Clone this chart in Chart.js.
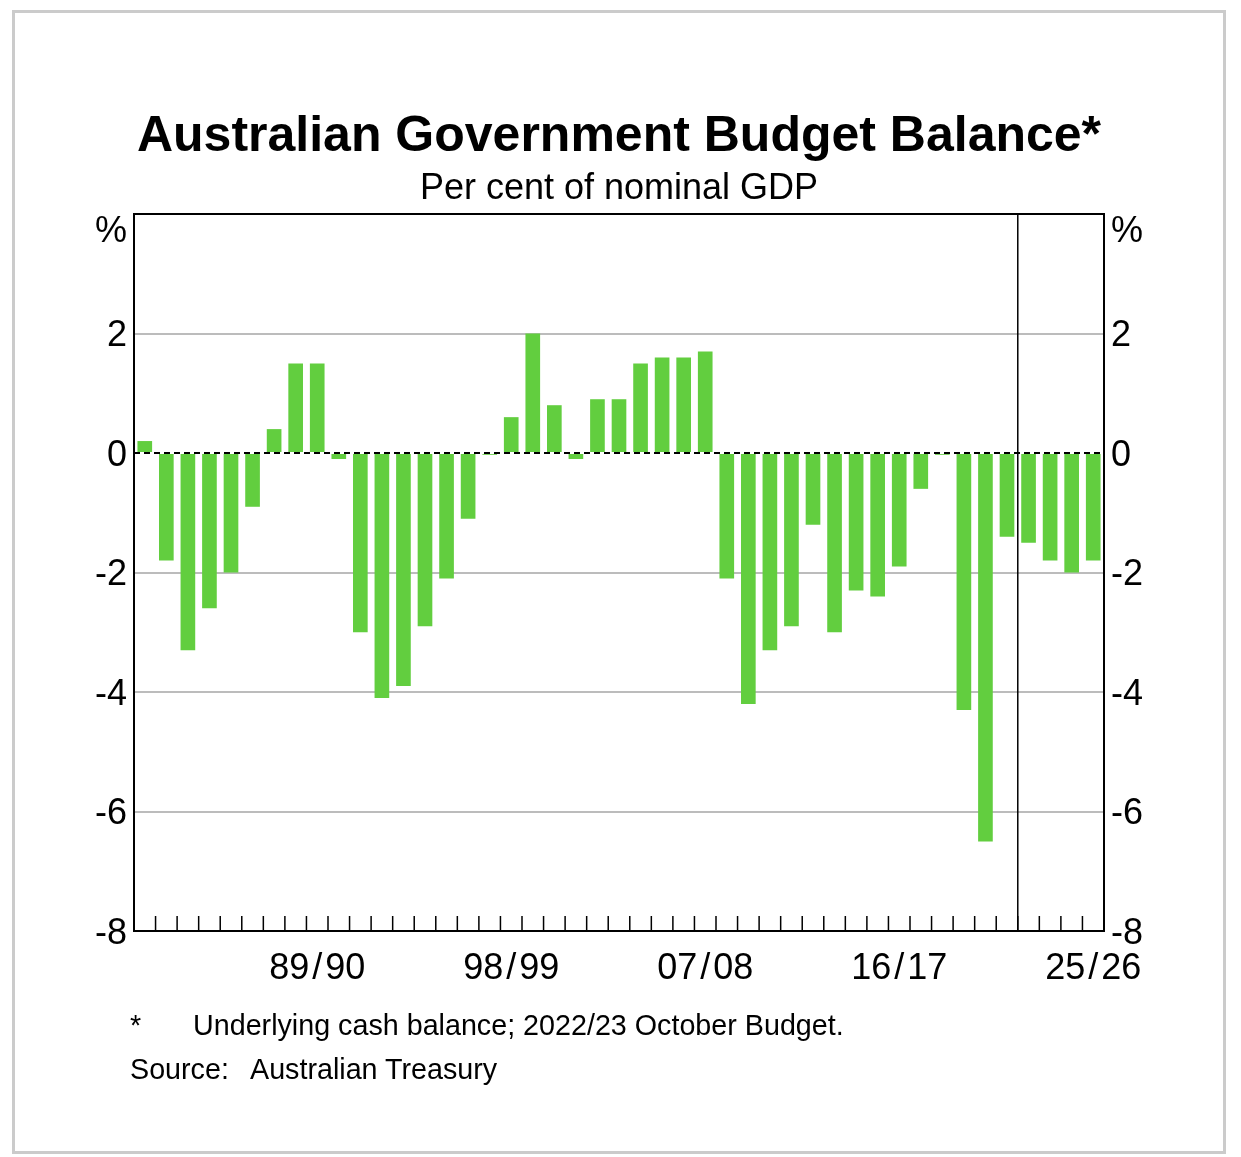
<!DOCTYPE html>
<html>
<head>
<meta charset="utf-8">
<script src="https://cdn.jsdelivr.net/npm/chart.js@4.4.0/dist/chart.umd.min.js"></script>
<style>
  body { margin: 0; background: #fff; font-family: "Liberation Sans", Arial, sans-serif; }
  #pagina { position: relative; width: 1241px; height: 1157px; overflow: hidden; }
  #moldura { position: absolute; left: 12px; top: 10px; width: 1208px; height: 1138px; border: 3px solid #cbcbcb; }
  canvas { position: absolute; left: 0; top: 0; }
  .txt { position: absolute; color: #000; white-space: pre; }
  #titulo { left: 0; width: 1238px; top: 109px; text-align: center; font-weight: bold; font-size: 50px; line-height: 50px; }
  #subtitulo { left: 0; width: 1238px; top: 169px; text-align: center; font-size: 36px; line-height: 36px; }
  .nota { font-size: 28.7px; line-height: 28px; }
</style>
</head>
<body>
<div id="pagina">
  <div id="moldura"></div>
  <canvas id="graficoSaldo" width="1241" height="1157"></canvas>
  <div class="txt" id="titulo">Australian Government Budget Balance*</div>
  <div class="txt" id="subtitulo">Per cent of nominal GDP</div>
  <div class="txt nota" style="left:130px; top:1011px;">*</div>
  <div class="txt nota" style="left:193px; top:1011px;">Underlying cash balance; 2022/23 October Budget.</div>
  <div class="txt nota" style="left:130px; top:1055px;">Source:</div>
  <div class="txt nota" style="left:250px; top:1055px;">Australian Treasury</div>
</div>
<script>
const anos = ['81/82', '82/83', '83/84', '84/85', '85/86', '86/87', '87/88', '88/89', '89/90',
  '90/91', '91/92', '92/93', '93/94', '94/95', '95/96', '96/97', '97/98', '98/99', '99/00',
  '00/01', '01/02', '02/03', '03/04', '04/05', '05/06', '06/07', '07/08', '08/09', '09/10',
  '10/11', '11/12', '12/13', '13/14', '14/15', '15/16', '16/17', '17/18', '18/19', '19/20',
  '20/21', '21/22', '22/23', '23/24', '24/25', '25/26'];

// saldo orcamentario, % do PIB nominal
const saldo = [0.2, -1.8, -3.3, -2.6, -2.0, -0.9, 0.4, 1.5, 1.5,
  -0.1, -3.0, -4.1, -3.9, -2.9, -2.1, -1.1, -0.03, 0.6, 2.0,
  0.8, -0.1, 0.9, 0.9, 1.5, 1.6, 1.6, 1.7, -2.1, -4.2,
  -3.3, -2.9, -1.2, -3.0, -2.3, -2.4, -1.9, -0.6, -0.03, -4.3,
  -6.5, -1.4, -1.5, -1.8, -2.0, -1.8];

const rotulosVisiveis = ['89/90', '98/99', '07/08', '16/17', '25/26'];
const linhasGrade = [2, -2, -4, -6];
const inicioProjecao = '22/23';

const verde = '#62ce3f';
const fonte = "'Liberation Sans', Arial, sans-serif";

// linhas vazias antes do texto empurram o rotulo um pouco para baixo
// (lineHeight de 6px): numeros descem 3px, o "%" desce 18px
function rotuloY(valor) {
  if (valor === 4) return ['', '', '', '', '', '', '%'];
  return ['', String(valor)];
}

const moldura = {
  id: 'moldura',
  beforeDatasetsDraw(grafico) {
    const { ctx, chartArea, scales } = grafico;
    const y0 = scales.y.getPixelForValue(0);
    ctx.save();
    ctx.strokeStyle = '#000';
    ctx.lineWidth = 2;
    ctx.setLineDash([6, 4]);
    ctx.beginPath();
    ctx.moveTo(chartArea.left, y0);
    ctx.lineTo(chartArea.right, y0);
    ctx.stroke();
    ctx.restore();
  },
  afterDatasetsDraw(grafico) {
    const { ctx, chartArea, scales } = grafico;
    const x = scales.x;
    ctx.save();
    ctx.strokeStyle = '#000';

    // marcas entre os anos
    ctx.lineWidth = 1.5;
    ctx.beginPath();
    for (let i = 1; i < anos.length; i++) {
      const px = (x.getPixelForValue(i - 1) + x.getPixelForValue(i)) / 2;
      ctx.moveTo(px, chartArea.bottom);
      ctx.lineTo(px, chartArea.bottom - 15);
    }
    ctx.stroke();

    // separa as projecoes
    const k = anos.indexOf(inicioProjecao);
    const sep = (x.getPixelForValue(k - 1) + x.getPixelForValue(k)) / 2;
    ctx.beginPath();
    ctx.moveTo(sep, chartArea.top);
    ctx.lineTo(sep, chartArea.bottom);
    ctx.stroke();

    ctx.lineWidth = 2;
    ctx.strokeRect(chartArea.left, chartArea.top, chartArea.right - chartArea.left, chartArea.bottom - chartArea.top);
    ctx.restore();
  }
};

const graficoSaldo = document.getElementById('graficoSaldo');
new Chart(graficoSaldo, {
  type: 'bar',
  data: {
    labels: anos,
    datasets: [{
      label: 'Budget balance',
      data: saldo,
      backgroundColor: verde,
      borderWidth: 0,
      categoryPercentage: 1,
      barPercentage: 0.68
    }]
  },
  options: {
    responsive: false,
    animation: false,
    devicePixelRatio: 1,
    layout: { padding: { top: 214, left: 0, right: 0, bottom: 0 } },
    plugins: { legend: { display: false }, tooltip: { enabled: false } },
    scales: {
      x: {
        offset: true,
        grid: { display: false, drawTicks: false },
        border: { display: false },
        ticks: {
          autoSkip: false,
          maxRotation: 0,
          padding: 16,
          color: '#000',
          font: { family: fonte, size: 36 },
          callback: (v, i) => rotulosVisiveis.includes(anos[i]) ? anos[i].replace('/', '\u200A/\u200A') : ''
        },
        afterFit: (s) => { s.height = 226; }
      },
      y: {
        position: 'left',
        min: -8,
        max: 4,
        border: { display: false },
        grid: {
          drawTicks: false,
          lineWidth: 2,
          color: (c) => linhasGrade.includes(c.tick.value) ? '#bcbcbc' : 'rgba(0,0,0,0)'
        },
        ticks: {
          stepSize: 2,
          padding: 7,
          color: '#000',
          font: { family: fonte, size: 36, lineHeight: '6px' },
          callback: rotuloY
        },
        afterFit: (s) => { s.width = 134; }
      },
      y2: {
        position: 'right',
        min: -8,
        max: 4,
        border: { display: false },
        grid: { display: false, drawTicks: false },
        ticks: {
          stepSize: 2,
          padding: 7,
          color: '#000',
          font: { family: fonte, size: 36, lineHeight: '6px' },
          callback: rotuloY
        },
        afterFit: (s) => { s.width = 137; }
      }
    }
  },
  plugins: [moldura]
});
</script>
</body>
</html>
